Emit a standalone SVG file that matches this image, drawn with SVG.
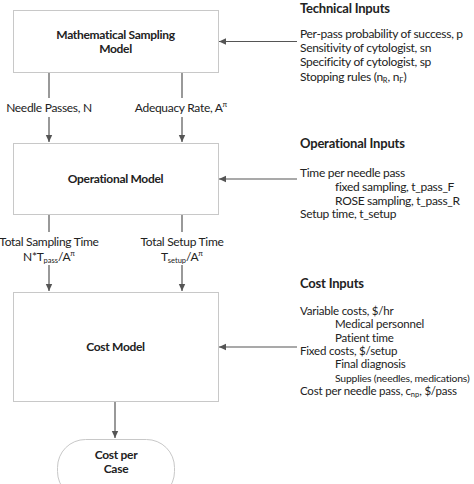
<svg xmlns="http://www.w3.org/2000/svg" width="474" height="484" viewBox="0 0 474 484">
<defs>
<style>
text{font-family:Lato,"Open Sans","Liberation Sans",sans-serif;font-size:12px;letter-spacing:-0.3px;fill:#222}
.b{font-weight:bold}
.h{font-size:13px;letter-spacing:-0.2px}
.c{text-anchor:middle}
.s{font-size:11.5px;letter-spacing:-0.2px}
.t{font-size:10.4px;letter-spacing:-0.2px}
.box{fill:#fff;stroke:#c8c8c8;stroke-width:1}
.ln{stroke:#555;stroke-width:1.2;fill:none}
.sub{font-size:7.5px;letter-spacing:0}
</style>
<marker id="ah" markerWidth="8" markerHeight="8" refX="7" refY="4" orient="auto" markerUnits="userSpaceOnUse">
<path d="M0,0.8 L7,4 L0,7.2 Z" fill="#555"/>
</marker>
</defs>
<rect width="474" height="484" fill="#fff"/>
<g id="connectors">
<line class="ln" x1="49" y1="72" x2="49" y2="98"/>
<line class="ln" x1="49" y1="117" x2="49" y2="142" marker-end="url(#ah)"/>
<line class="ln" x1="182" y1="72" x2="182" y2="98"/>
<line class="ln" x1="182" y1="117" x2="182" y2="142" marker-end="url(#ah)"/>
<line class="ln" x1="49" y1="214" x2="49" y2="232"/>
<line class="ln" x1="49" y1="265" x2="49" y2="291" marker-end="url(#ah)"/>
<line class="ln" x1="182" y1="214" x2="182" y2="232"/>
<line class="ln" x1="182" y1="265" x2="182" y2="291" marker-end="url(#ah)"/>
<line class="ln" x1="115" y1="401" x2="115" y2="438" marker-end="url(#ah)"/>
<line class="ln" x1="297" y1="41.5" x2="219" y2="41.5" marker-end="url(#ah)"/>
<line class="ln" x1="297" y1="179" x2="219" y2="179" marker-end="url(#ah)"/>
<line class="ln" x1="297" y1="347" x2="219" y2="347" marker-end="url(#ah)"/>
<text class="c" x="49" y="112">Needle Passes, N</text>
<text class="c" x="181" y="112">Adequacy Rate, A<tspan class="sub" dy="-5">π</tspan></text>
<text class="c" x="49" y="246">Total Sampling Time</text>
<text class="c" x="49" y="261">N*T<tspan class="sub" dy="2">pass</tspan><tspan dy="-2">/A</tspan><tspan class="sub" dy="-5">π</tspan></text>
<text class="c" x="182" y="246">Total Setup Time</text>
<text class="c" x="182" y="261">T<tspan class="sub" dy="2">setup</tspan><tspan dy="-2">/A</tspan><tspan class="sub" dy="-5">π</tspan></text>
</g>
<g id="mathematical-sampling-model">
<rect class="box" x="13.5" y="10.5" width="205" height="62"/>
<text class="b c" x="115.5" y="39">Mathematical Sampling</text>
<text class="b c" x="115.5" y="53">Model</text>
</g>
<g id="operational-model">
<rect class="box" x="13.5" y="143.5" width="205" height="71"/>
<text class="b c" x="115.5" y="183">Operational Model</text>
</g>
<g id="cost-model">
<rect class="box" x="13.5" y="292.5" width="205" height="109"/>
<text class="b c" x="115.5" y="351">Cost Model</text>
</g>
<g id="cost-per-case">
<rect class="box" x="57.5" y="439.5" width="117" height="60" rx="28" ry="28"/>
<text class="b c" x="116" y="459">Cost per</text>
<text class="b c" x="116" y="473">Case</text>
</g>
<g id="technical-inputs">
<text class="b h" x="300" y="12.5">Technical Inputs</text>
<text x="300" y="38">Per-pass probability of success, p</text>
<text x="300" y="52">Sensitivity of cytologist,  sn</text>
<text x="300" y="66">Specificity of cytologist, sp</text>
<text x="300" y="81">Stopping rules (n<tspan class="sub" dy="2">R</tspan><tspan dy="-2">, n</tspan><tspan class="sub" dy="2">F</tspan><tspan dy="-2">)</tspan></text>
</g>
<g id="operational-inputs">
<text class="b h" x="300" y="148">Operational Inputs</text>
<text x="300" y="177">Time per needle pass</text>
<text x="335" y="191">fixed sampling, t_pass_F</text>
<text x="335" y="205">ROSE sampling, t_pass_R</text>
<text x="300" y="218">Setup time, t_setup</text>
</g>
<g id="cost-inputs">
<text class="b h" x="300" y="288">Cost Inputs</text>
<text class="s" x="300" y="315">Variable costs, $/hr</text>
<text class="s" x="335" y="328.3">Medical personnel</text>
<text class="s" x="335" y="341.6">Patient time</text>
<text class="s" x="300" y="354.9">Fixed costs, $/setup</text>
<text class="s" x="335" y="368.2">Final diagnosis</text>
<text class="t" x="335" y="381.5">Supplies (needles, medications)</text>
<text class="s" x="300" y="395">Cost per needle pass, c<tspan class="sub" dy="2">np</tspan><tspan dy="-2">, $/pass</tspan></text>
</g>
</svg>
